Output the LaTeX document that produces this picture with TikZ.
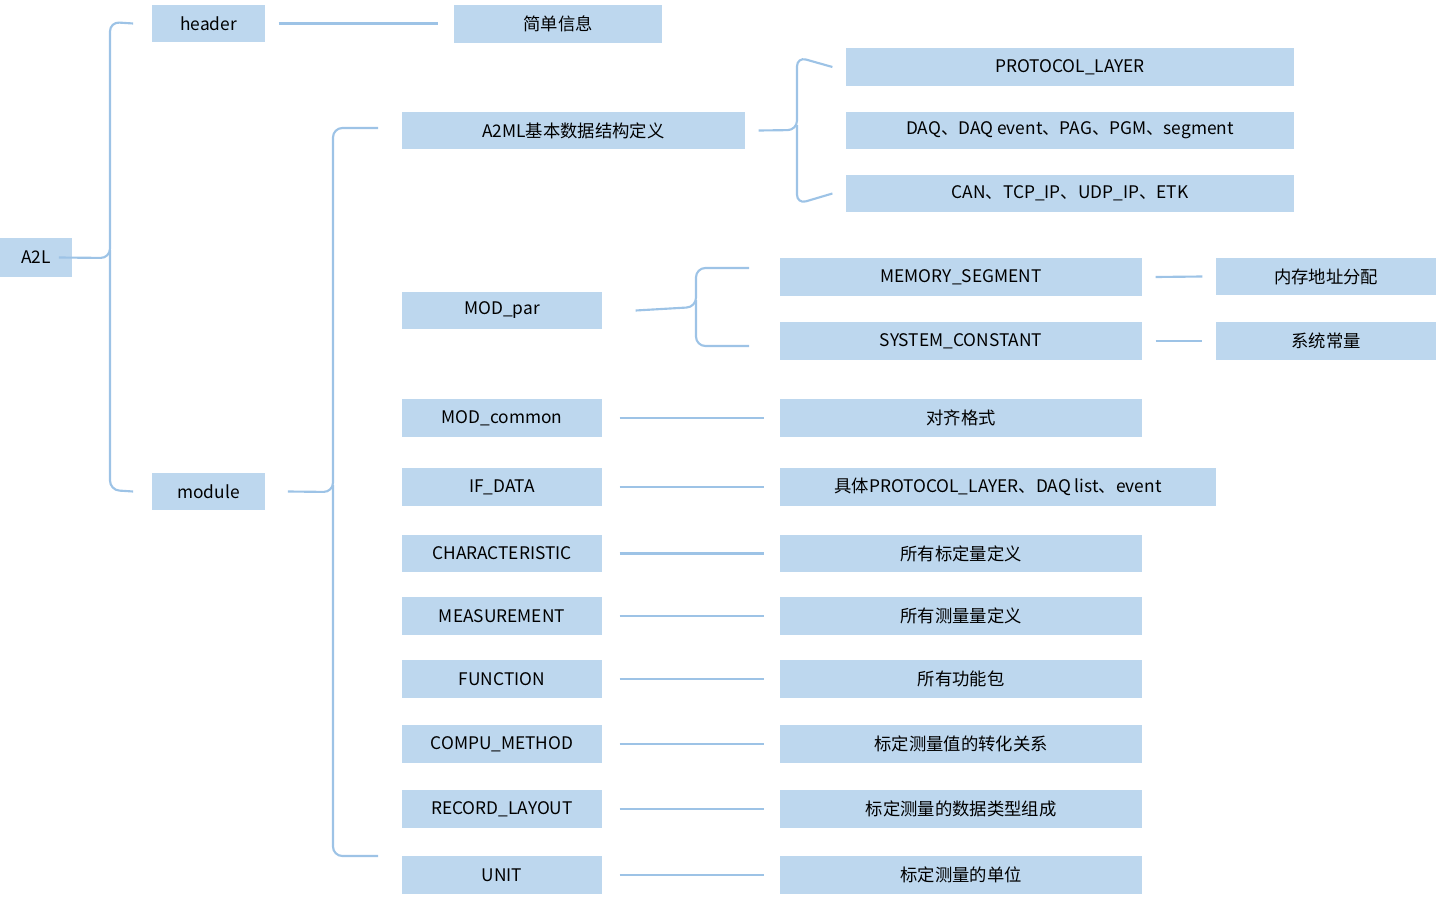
\documentclass[tikz,border=0pt]{standalone}
\usepackage{fontspec}
\setmainfont{Noto Sans CJK SC}
\begin{document}
\begin{tikzpicture}[x=0.75pt,y=-0.75pt,
  box/.style={fill=boxc,draw=none,inner sep=0pt,font=\fontsize{13}{15}\selectfont},
  ln/.style={draw=linec,line width=1.6pt},
  br/.style={draw=linec,line width=1.6pt,rounded corners=7pt}]
\definecolor{boxc}{HTML}{BDD7EE}
\definecolor{linec}{HTML}{9DC3E6}
\useasboundingbox (0,0) rectangle (1440,903);
\newcommand\bx[6]{\node[box,minimum width={(#4-#2)*0.75pt},minimum height={(#5-#3)*0.75pt}] (#1) at ({(#2+#4)/2},{(#3+#5)/2}) {#6};}
\bx{a2l}{0}{238}{72}{277}{A2L}
\bx{header}{152}{5}{265}{42}{header}
\bx{module}{152}{473}{265}{510}{module}
\bx{info}{454}{5}{662}{43}{简单信息}
\bx{a2ml}{402}{112}{745}{149}{A2ML基本数据结构定义}
\bx{prot}{846}{48}{1294}{86}{PROTOCOL\_LAYER}
\bx{daq}{846}{112}{1294}{149}{DAQ、DAQ event、PAG、PGM、segment}
\bx{can}{846}{175}{1294}{212}{CAN、TCP\_IP、UDP\_IP、ETK}
\bx{modpar}{402}{292}{602}{329}{MOD\_par}
\bx{mem}{780}{258}{1142}{296}{MEMORY\_SEGMENT}
\bx{sys}{780}{322}{1142}{360}{SYSTEM\_CONSTANT}
\bx{memd}{1216}{258}{1436}{295}{内存地址分配}
\bx{sysd}{1216}{322}{1436}{360}{系统常量}
\bx{modc}{402}{399}{602}{437}{MOD\_common}
\bx{modcd}{780}{399}{1142}{437}{对齐格式}
\bx{ifd}{402}{468}{602}{506}{IF\_DATA}
\bx{ifdd}{780}{468}{1216}{506}{具体PROTOCOL\_LAYER、DAQ list、event}
\bx{char}{402}{535}{602}{572}{CHARACTERISTIC}
\bx{chard}{780}{535}{1142}{572}{所有标定量定义}
\bx{meas}{402}{597}{602}{635}{MEASUREMENT}
\bx{measd}{780}{597}{1142}{635}{所有测量量定义}
\bx{func}{402}{660}{602}{698}{FUNCTION}
\bx{funcd}{780}{660}{1142}{698}{所有功能包}
\bx{comp}{402}{725}{602}{763}{COMPU\_METHOD}
\bx{compd}{780}{725}{1142}{763}{标定测量值的转化关系}
\bx{rec}{402}{790}{602}{828}{RECORD\_LAYOUT}
\bx{recd}{780}{790}{1142}{828}{标定测量的数据类型组成}
\bx{unit}{402}{856}{602}{894}{UNIT}
\bx{unitd}{780}{856}{1142}{894}{标定测量的单位}
% braces
\draw[br] ([xshift=-10]a2l.east) -- (110,258) -- (110,22) -- ([xshift=-14]header.west);
\draw[br] (110,250) -- (110,490) -- ([xshift=-14]module.west);
\draw[br] ([xshift=17]module.east) -- (333,492) -- (333,128) -- (378,128);
\draw[br] (333,485) -- (333,856) -- (378,856);
\draw[br] ([xshift=10]a2ml.east) -- (797,130) -- (797,57) -- ([xshift=-10]prot.west);
\draw[br] (797,125) -- (797,204) -- ([xshift=-10]can.west);
\draw[br] ([xshift=25]modpar.east) -- (696,307) -- (696,268) -- ([xshift=-23]mem.west |- 0,268);
\draw[br] (696,300) -- (696,346) -- ([xshift=-23]sys.west |- 0,346);
% lines
\draw[ln] ([xshift=10]header.east) -- ([xshift=-12]info.west |- header.east);
\draw[ln] ([xshift=10]mem.east) -- ([xshift=-10]memd.west);
\draw[ln] ([xshift=10]sys.east) -- ([xshift=-10]sysd.west);
\foreach \a/\b in {modc/modcd,ifd/ifdd,char/chard,meas/measd,func/funcd,comp/compd,rec/recd,unit/unitd}
  \draw[ln] ([xshift=13]\a.east) -- ([xshift=-12]\b.west);
\end{tikzpicture}
\end{document}
